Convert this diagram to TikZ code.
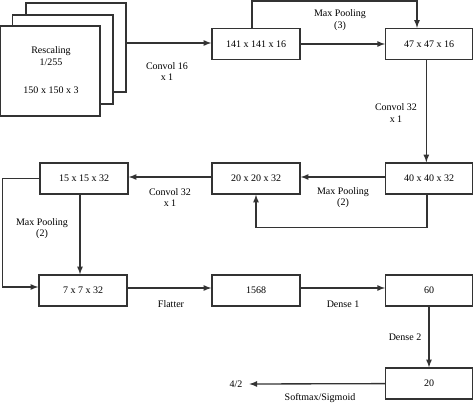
\documentclass[tikz,border=0pt]{standalone}
\usepackage{fontspec}
\setmainfont{Liberation Serif}
\usetikzlibrary{calc}
\usetikzlibrary{arrows}

\tikzset{
  blk/.style={draw=black!80, line width=1, fill=white, minimum width=66pt, minimum height=23.25pt, inner sep=0pt, font=\fontsize{7.5}{9}\selectfont},
  sblk/.style={blk, minimum width=64.9pt},
  lbl/.style={align=center, inner sep=0pt, font=\fontsize{7.5}{8.7}\selectfont},
  con/.style={draw=black!80, line width=1, -latex}
}

\begin{document}
\begin{tikzpicture}[x=0.75pt,y=0.75pt,yscale=-1,xscale=1]
\useasboundingbox (0,0) rectangle (474,403);

% Input stack
\node [blk, minimum width=75pt, minimum height=66.75pt] (back) at (76,47.5) {};
\node [blk, minimum width=75.4pt, minimum height=66.75pt] (mid) at (62.75,59.5) {};
\node [blk, minimum width=74.6pt, minimum height=67.5pt] (front) at (50.25,71) {};
% Text Node
\node [lbl] (resc) at (51,56) {Rescaling\\1/255};
% Text Node
\node [lbl] (insz) at (51,90) {150 x 150 x 3};

% Layer boxes
\node [blk] (c141) at (256,44) {141 x 141 x 16};
\node [sblk] (c47) at (429,44) {47 x 47 x 16};
\node [sblk] (c40) at (429,178.5) {40 x 40 x 32};
\node [blk] (c20) at (256,178.5) {20 x 20 x 32};
\node [blk] (c15) at (84,178.5) {15 x 15 x 32};
\node [blk] (c7) at (83,290.5) {7 x 7 x 32};
\node [blk] (c1568) at (256,290.5) {1568};
\node [sblk] (c60) at (429,290.5) {60};
\node [sblk] (c20b) at (429,383.5) {20};
% Text Node
\node [lbl] (out) at (236,384) {4/2};
\coordinate (top) at (0,1);

%Straight Lines
\draw [con] (back.east |- 0,43) -- (c141.west |- 0,43);
\draw [con] (c141) -- (c47);
\draw [con] ([xshift=-3pt]c141.north) -- ([xshift=-3pt]c141.north |- top) -| ([xshift=-9pt]c47.north);
\draw [con] ([xshift=-2pt]c47.south) -- ([xshift=-2pt]c40.north);
\draw [con] (c40.west |- 0,177) -- (c20.east |- 0,177);
\draw [con] ([xshift=-1.5pt]c40.south) -- ++(0,33) -| (c20.south);
\draw [con] (c20.west |- 0,177) -- (c15.east |- 0,177);
\draw [con] ([xshift=-3pt]c15.south) -- ([xshift=-3pt]c15.south |- c7.north);
\draw [con] (c15.west) -- ++(-37,0) |- (c7.west |- 0,287);
\draw [con] (c7.east |- 0,288) -- (c1568.west |- 0,288);
\draw [con] (c1568.east |- 0,288) -- (c60.west |- 0,288);
\draw [con] (c60) -- (c20b);
\draw [con] (c20b) -- ([xshift=5pt]out.east);

% Text Node
\node [lbl] (l16) at (167,71.5) {Convol 16\\x 1};
% Text Node
\node [lbl] (lmp3) at (340,20) {Max Pooling\\(3)};
% Text Node
\node [lbl] (l32a) at (396,113) {Convol 32\\x 1};
% Text Node
\node [lbl] (lmp2a) at (343,197.5) {Max Pooling\\(2)};
% Text Node
\node [lbl] (l32b) at (170,197.5) {Convol 32\\x 1};
% Text Node
\node [lbl] (lmp2b) at (42,228.5) {Max Pooling\\(2)};
% Text Node
\node [lbl] (lfl) at (171,304) {Flatter};
% Text Node
\node [lbl] (ld1) at (343,304) {Dense 1};
% Text Node
\node [lbl] (ld2) at (405,337) {Dense 2};
% Text Node
\node [lbl] (lsm) at (320,398) {Softmax/Sigmoid};

\end{tikzpicture}
\end{document}
